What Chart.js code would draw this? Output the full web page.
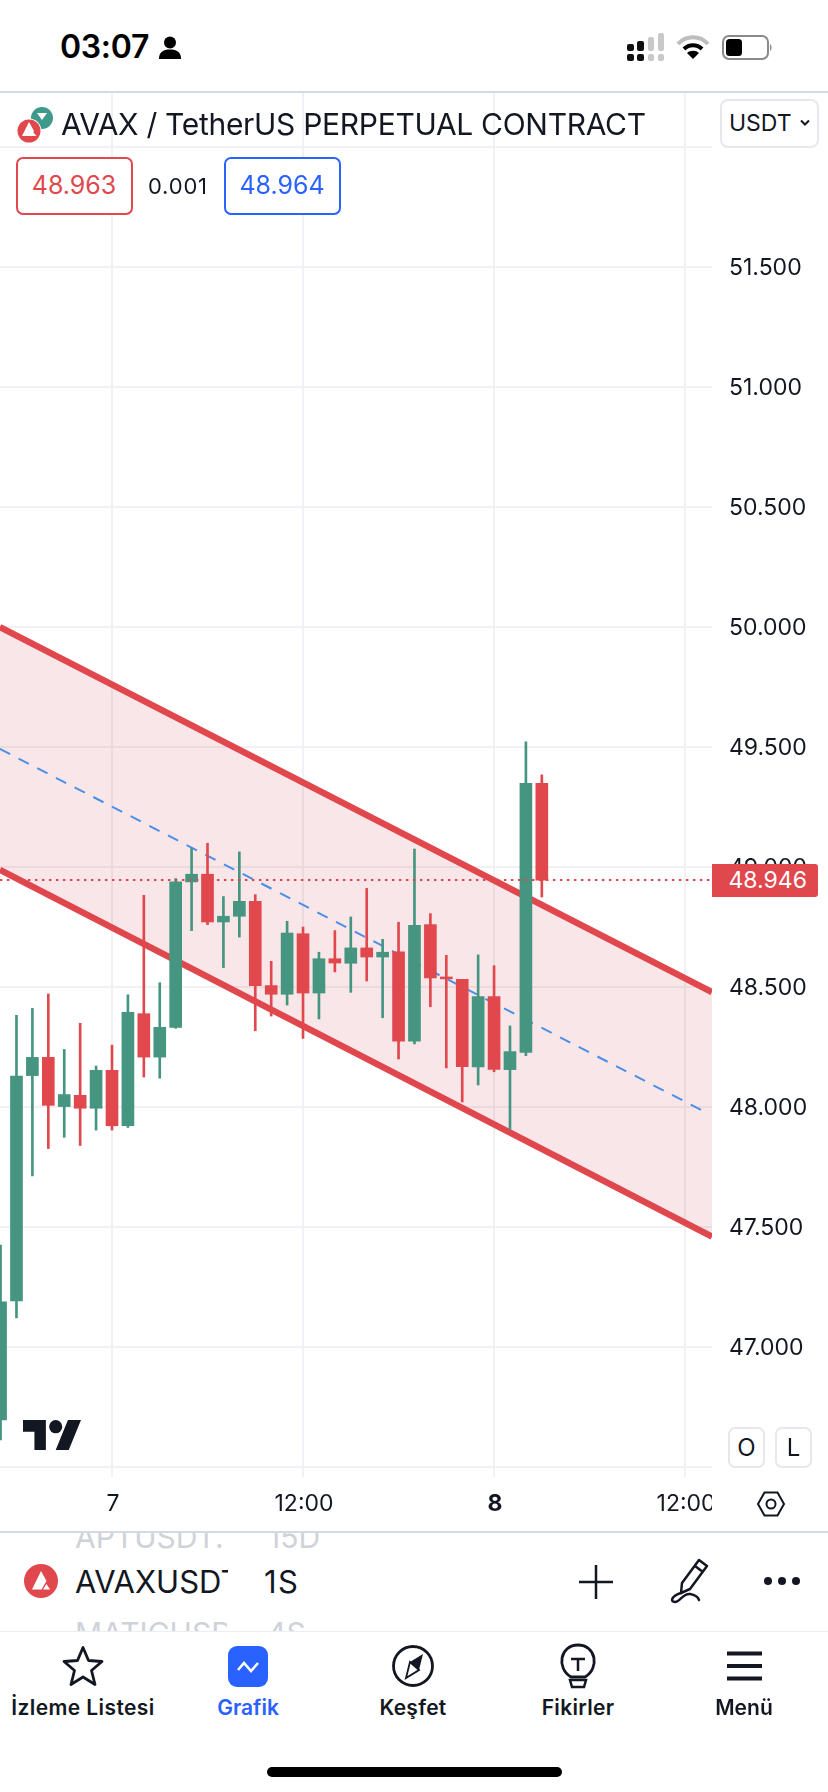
<!DOCTYPE html>
<html lang="tr">
<head>
<meta charset="utf-8">
<title>AVAX / TetherUS PERPETUAL CONTRACT</title>
<script src="https://cdn.jsdelivr.net/npm/chart.js@4"></script>
<style>
html,body{margin:0;padding:0;background:#fff;width:828px;height:1792px;overflow:hidden}
body{position:relative;font-family:Inter,Roboto,sans-serif;color:#131722}
#chart{position:absolute;left:0;top:92px;display:block}
.t{position:absolute;white-space:nowrap;line-height:1}
.c{transform:translateX(-50%)}
.box{position:absolute;box-sizing:border-box;background:#fff}
svg{position:absolute;overflow:visible}
.nav{font-size:21px;font-weight:600;top:1697px}
.ghost{color:#cfd2d8;font-size:30px}
</style>
</head>
<body>
<canvas id="chart" width="828" height="1439"></canvas>

<!-- status bar -->
<div class="t" style="left:60px;top:31px;font-size:32px;font-weight:600;letter-spacing:-.3px;color:#000">03:07</div>
<svg style="left:159px;top:36px" width="22" height="23" viewBox="0 0 22 23"><circle cx="11" cy="6.5" r="6" fill="#000"/><path d="M0 23c0-7 4-9.5 11-9.5S22 16 22 23z" fill="#000"/></svg>
<svg style="left:627px;top:33px" width="38" height="28" viewBox="0 0 38 28">
<g fill="#111"><rect x="0" y="11" width="7" height="7" rx="2"/><rect x="10" y="8" width="7" height="10" rx="2"/><rect x="0" y="21" width="7" height="7" rx="2"/><rect x="10" y="21" width="7" height="7" rx="2"/></g>
<g fill="#c9c9c9"><rect x="21" y="4" width="6" height="14" rx="2"/><rect x="31" y="0" width="6" height="18" rx="2"/><rect x="21" y="21" width="6" height="7" rx="2"/><rect x="31" y="21" width="6" height="7" rx="2"/></g></svg>
<svg style="left:677px;top:35px" width="32" height="24" viewBox="0 0 32 24"><path d="M1 9C9 0 23 0 31 9" fill="none" stroke="#bdbdbd" stroke-width="4"/><path d="M7 14c5-5 13-5 18 0" fill="none" stroke="#000" stroke-width="4"/><path d="M16 24l-6-6c3-3 9-3 12 0z" fill="#000"/></svg>
<svg style="left:722px;top:35px" width="50" height="25" viewBox="0 0 50 25"><rect x="1" y="1" width="45" height="23" rx="6" fill="none" stroke="#8a8a8a" stroke-width="2"/><rect x="4" y="4" width="16" height="17" rx="3.5" fill="#000"/><path d="M48 9c2 1 2 6 0 7z" fill="#8a8a8a"/></svg>

<div class="box" style="left:0;top:91px;width:828px;height:2px;background:#d5dae2"></div>

<!-- header -->
<svg style="left:16px;top:107px" width="38" height="36" viewBox="0 0 38 36"><circle cx="26" cy="11" r="11" fill="#3f9a8c"/><path d="M21 6h10l-5 7z" fill="#fff"/><circle cx="13" cy="24" r="12.5" fill="#fff"/><circle cx="13" cy="24" r="11.5" fill="#e0484e"/><path d="M13 15l5 9-3 5H6z" fill="#fff"/><path d="M17 25l3.500 4h-6z" fill="#fff"/></svg>
<div class="t" id="title" style="left:61px;top:109px;font-size:30px;font-weight:400;letter-spacing:-.3px">AVAX / TetherUS PERPETUAL CONTRACT</div>
<div class="box" style="left:720px;top:99px;width:99px;height:49px;border:2px solid #e6e8ee;border-radius:8px"></div>
<div class="t" style="left:729px;top:112px;font-size:23px">USDT</div>
<svg style="left:799px;top:119px" width="12" height="8" viewBox="0 0 12 8"><path d="M2 1.500l4 4 4-4" fill="none" stroke="#131722" stroke-width="2"/></svg>
<div class="box" style="left:16px;top:157px;width:117px;height:58px;border:2px solid #e0484e;border-radius:7px"></div>
<div class="t c" style="left:74px;top:173px;font-size:25px;color:#e0484e">48.963</div>
<div class="t" style="left:148px;top:175px;font-size:22px;letter-spacing:.8px">0.001</div>
<div class="box" style="left:224px;top:157px;width:117px;height:58px;border:2px solid #2962ff;border-radius:7px"></div>
<div class="t c" style="left:282px;top:173px;font-size:25px;color:#2962ff">48.964</div>

<!-- last price tag -->
<div class="box t" style="left:712px;top:864px;width:106px;height:33px;background:#e0484e;color:#fff;font-size:23px;border-radius:0 3px 3px 0;line-height:33px;padding-left:16.500px">48.946</div>

<!-- TradingView mark -->
<svg style="left:23px;top:1420px" width="58" height="30" viewBox="0 4 35.500 18" preserveAspectRatio="none"><path d="M14 22H7V11H0V4h14v18zM28 22h-8l7.500-18h8L28 22z" fill="#131722"/><circle cx="20" cy="8" r="4" fill="#131722"/></svg>
<div class="box" style="left:728px;top:1427px;width:37px;height:41px;border:2px solid #e6e8ee;border-radius:7px"></div>
<div class="t c" style="left:746.500px;top:1436px;font-size:24px">O</div>
<div class="box" style="left:775px;top:1427px;width:37px;height:41px;border:2px solid #e6e8ee;border-radius:7px"></div>
<div class="t c" style="left:793.500px;top:1436px;font-size:24px">L</div>

<!-- axis corner: hides the price-scale column beside the time axis -->
<div class="box" style="left:712px;top:1477px;width:116px;height:53px"></div>
<svg style="left:757px;top:1491px" width="28" height="26" viewBox="0 0 28 26"><path d="M7.500 1.500h13L27 13l-6.500 11.500h-13L1 13z" fill="none" stroke="#131722" stroke-width="2"/><circle cx="14" cy="13" r="4.500" fill="none" stroke="#131722" stroke-width="2"/></svg>
<div class="box" style="left:0;top:1531px;width:828px;height:2px;background:#d5dae2"></div>

<!-- symbol strip -->
<div style="position:absolute;left:0;top:1533px;width:828px;height:99px;overflow:hidden">
  <div class="t ghost" style="left:75px;top:-11px;width:153px;overflow:hidden">APTUSDT.</div>
  <div class="t ghost" style="left:268px;top:-11px">15D</div>
  <div class="t" style="left:75px;top:33px;font-size:31px;width:153px;overflow:hidden;height:34px">AVAXUSDT.P</div>
  <div class="t" style="left:264px;top:33px;font-size:31px;letter-spacing:1.500px">1S</div>
  <div class="t ghost" style="left:75px;top:85px;width:152px;overflow:hidden">MATICUSDT.P</div>
  <div class="t ghost" style="left:267px;top:85px">4S</div>
</div>
<svg style="left:24px;top:1564px" width="34" height="34" viewBox="0 0 34 34"><circle cx="17" cy="17" r="17" fill="#e0484e"/><path d="M17 7l5.500 10-5 8.500H8z" fill="#fff"/><path d="M22.500 20l3.500 5.500h-7z" fill="#fff"/></svg>
<svg style="left:578px;top:1564px" width="36" height="36" viewBox="0 0 36 36"><path d="M18 1v34M1 18h34" stroke="#131722" stroke-width="2.500" fill="none"/></svg>
<svg style="left:670px;top:1558px" width="40" height="46" viewBox="0 0 40 46"><path d="M29 2l8 6-17 23-9 4 1-10z" fill="none" stroke="#131722" stroke-width="2.500" stroke-linejoin="round"/><path d="M25 8l8 6" stroke="#131722" stroke-width="2.500"/><path d="M11 35c-10 3-11 9-6 9 5 0 8-9 15-8 6 1 8 3 9 6" fill="none" stroke="#131722" stroke-width="2.500" stroke-linecap="round"/></svg>
<svg style="left:764px;top:1577px" width="36" height="8" viewBox="0 0 36 8"><circle cx="4" cy="4" r="4" fill="#131722"/><circle cx="18" cy="4" r="4" fill="#131722"/><circle cx="32" cy="4" r="4" fill="#131722"/></svg>
<div class="box" style="left:0;top:1631px;width:828px;height:1px;background:#eceef1"></div>

<!-- bottom navigation -->
<svg style="left:62px;top:1645px" width="42" height="42" viewBox="0 0 42 42"><path d="M21 2.500l5.500 13 13.500 1-10.500 9 3.500 14L21 32l-12 7.500 3.500-14L2 16.500l13.500-1z" fill="none" stroke="#131722" stroke-width="2.800" stroke-linejoin="round"/></svg>
<div class="t c nav" style="left:83px;letter-spacing:.4px">İzleme Listesi</div>
<svg style="left:228px;top:1646px" width="40" height="41" viewBox="0 0 40 41"><rect width="40" height="41" rx="9" fill="#2962ff"/><path d="M10 24l6-7 7 8 7-8" fill="none" stroke="#fff" stroke-width="2.500"/></svg>
<div class="t c nav" style="left:248px;color:#2962ff">Grafik</div>
<svg style="left:392px;top:1645px" width="42" height="42" viewBox="0 0 42 42"><circle cx="21" cy="21" r="19.500" fill="none" stroke="#131722" stroke-width="2.800"/><path d="M31 9l-4 16-13 8 4-16z" fill="#131722"/><path d="M27 25L18 17l-4 16z" fill="#fff"/><path d="M27 25L18 17l-4 16z" fill="none" stroke="#131722" stroke-width="1.800"/></svg>
<div class="t c nav" style="left:413px;letter-spacing:.3px">Keşfet</div>
<svg style="left:559px;top:1643px" width="38" height="46" viewBox="0 0 38 46"><path d="M12 34C-3 25 1 2 19 2s22 23 7 32z" fill="none" stroke="#131722" stroke-width="2.800"/><path d="M12 16h14M19 16v12" stroke="#131722" stroke-width="2.500" fill="none"/><path d="M11 37h16l-2 7H13z" fill="none" stroke="#131722" stroke-width="2.500"/></svg>
<div class="t c nav" style="left:578px;letter-spacing:.3px">Fikirler</div>
<svg style="left:727px;top:1651px" width="35" height="30" viewBox="0 0 35 30"><path d="M0 2.500h35M0 15h35M0 27.500h35" stroke="#131722" stroke-width="4" fill="none"/></svg>
<div class="t c nav" style="left:744px">Menü</div>
<div class="box" style="left:267px;top:1767px;width:295px;height:10px;border-radius:5px;background:#000"></div>

<script>
// candle positions: hourly bars counted from the "7" day boundary
const hourIndex = [-7,-6,-5,-4,-3,-2,-1,0,1,2,3,4,5,6,7,8,9,10,11,12,13,14,15,16,17,18,19,20,21,22,23,24,25,26,27];
const openPrices  = [46.696,47.192,48.131,48.207,48.002,48.049,47.995,48.153,47.922,48.389,48.208,48.332,48.938,48.970,48.771,48.795,48.857,48.506,48.470,48.722,48.475,48.618,48.599,48.663,48.625,48.647,48.274,48.760,48.542,48.532,48.167,48.460,48.156,48.228,49.349];
const highPrices  = [47.425,48.382,48.411,48.471,48.240,48.349,48.171,48.258,48.468,48.882,48.518,48.952,49.079,49.099,48.877,49.063,48.885,48.607,48.774,48.750,48.645,48.735,48.792,48.911,48.699,48.770,49.075,48.806,48.632,48.532,48.634,48.589,48.338,49.522,49.384];
const lowPrices   = [46.613,47.121,47.713,47.827,47.874,47.840,47.904,47.904,47.915,48.125,48.120,48.328,48.735,48.760,48.581,48.708,48.318,48.379,48.425,48.286,48.367,48.563,48.478,48.525,48.372,48.200,48.263,48.418,48.163,48.021,48.092,48.147,47.907,48.214,48.875];
const closePrices = [47.189,48.129,48.207,48.007,48.052,47.995,48.153,47.922,48.395,48.208,48.332,48.938,48.970,48.771,48.795,48.857,48.506,48.470,48.725,48.475,48.618,48.600,48.663,48.625,48.645,48.274,48.757,48.538,48.534,48.168,48.460,48.157,48.231,49.349,48.945];

// parallel channel and its dashed centre line
const channelX = [-7.04, 37.69];
const upperChannel = [50.000, 48.479];
const lowerChannel = [48.988, 47.460];
const midlineX = [-7.04, 37.10];
const midline = [49.492, 47.985];

const lastPrice = 48.946;

const yTickValues = [52,51.5,51,50.5,50,49.5,49,48.5,48,47.5,47,46.5];
const yTickLabels = ["","51.500","51.000","50.500","50.000","49.500","49.000","48.500","48.000","47.500","47.000",""];
const xTickValues = [0,12,24,36];
const xTickLabels = ["7","12:00","8","12:00"];

const RED = "#e0484e", GREEN = "#459580", BLUE = "#4a90e8", GRID = "#f0f1f4";
const candleColors = openPrices.map((o,i)=> closePrices[i] >= o ? GREEN : RED);
const seg = (xs, ys) => xs.map((x,i)=>({x, y: ys[i]}));
const lineBase = {type:"line", pointRadius:0, tension:0};

new Chart(document.getElementById("chart"), {
  type: "bar",
  data: { datasets: [
    {...lineBase, label:"Last price", data: seg(channelX,[lastPrice,lastPrice]), borderColor:RED, borderWidth:2.2, borderDash:[2.5,4.5], order:0},
    {label:"Body", data: hourIndex.map((x,i)=>({x, y:[openPrices[i], closePrices[i]]})), backgroundColor:candleColors, barThickness:12, grouped:false, order:1},
    {label:"Wick", data: hourIndex.map((x,i)=>({x, y:[lowPrices[i], highPrices[i]]})), backgroundColor:candleColors, barThickness:2, grouped:false, order:2},
    {...lineBase, label:"Midline", data: seg(midlineX,midline), borderColor:BLUE, borderWidth:2, borderDash:[11.5,9.5], order:3},
    {...lineBase, label:"Upper channel", data: seg(channelX,upperChannel), borderColor:RED, borderWidth:6.4, fill:{target:5}, backgroundColor:"rgba(211,70,85,0.135)", order:4},
    {...lineBase, label:"Lower channel", data: seg(channelX,lowerChannel), borderColor:RED, borderWidth:6.4, order:5}
  ]},
  options: {
    responsive:false, animation:false, devicePixelRatio:1,
    layout:{padding:0},
    plugins:{legend:{display:false}, tooltip:{enabled:false}},
    scales:{
      x:{
        type:"linear", min:-7.035, max:37.69, offset:false,
        border:{display:false},
        grid:{offset:false, color:GRID, lineWidth:2, drawTicks:true, tickLength:8, tickColor:GRID},
        afterBuildTicks:s=>{s.ticks=xTickValues.map(v=>({value:v}));},
        afterFit:s=>{s.height=62;s.paddingLeft=0;s.paddingRight=0;},
        ticks:{
          autoSkip:false, maxRotation:0, minRotation:0, padding:13, labelOffset:1, color:"#131722",
          font:c=>({family:"Inter", size:23, weight:c.index===2?"700":"400"}),
          callback:(v,i)=>xTickLabels[i]
        }
      },
      y:{
        type:"linear", position:"right", min:46.492, max:52.229,
        border:{display:false},
        grid:{color:GRID, lineWidth:2, drawTicks:false},
        afterBuildTicks:s=>{s.ticks=yTickValues.map(v=>({value:v}));},
        afterFit:s=>{s.width=116;s.paddingTop=0;s.paddingBottom=0;},
        ticks:{
          autoSkip:false, padding:17, labelOffset:1, color:"#131722",
          font:{family:"Inter", size:23, weight:"400"},
          callback:(v,i)=>yTickLabels[i]
        }
      }
    }
  }
});
</script>
</body>
</html>
